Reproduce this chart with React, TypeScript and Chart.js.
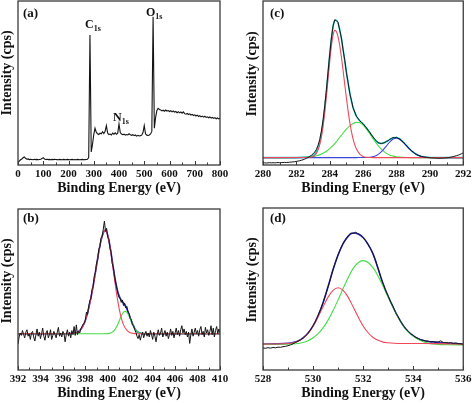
import React, { useEffect, useRef } from "react";
import { Chart, registerables } from "chart.js";

Chart.register(...registerables);

const SERIF = '"Liberation Serif", "Times New Roman", serif';
const INK = "#111111";

// ---------- (a) survey scan: counts every 5 eV from 0 eV ----------
const surveyStartEV = 0;
const surveyStepEV = 5;
const surveyCounts = [
  1.2, 2.4, 3.2, 3.6, 4.4, 4.9, 4.1, 3.5, 3.7, 3.3, // 0-45
  3.5, 3.4, 3.2, 3.5, 3.3, 3.4, 3.2, 3.4, 3.5, 3.9, // 50-95
  4.5, 3.7, 3.4, 3.5, 3.3, 3.4, 3.2, 3.4, 3.3, 3.5, // 100-145
  3.4, 3.3, 3.2, 3.4, 3.3, 3.2, 3.4, 3.3, 3.2, 3.4, // 150-195
  3.3, 3.2, 3.3, 3.4, 3.2, 3.3, 3.2, 3.4, 3.3, 3.2, // 200-245
  3.3, 3.4, 3.2, 3.3, 3.4, 3.5, 4.5, 79.3, 8.0, 12.5, // 250-295
  18.5, 22.4, 20.0, 19.0, 18.6, 19.4, 19.0, 20.3, 19.2, 20.5, // 300-345
  24.0, 19.5, 18.6, 18.9, 18.3, 19.5, 18.8, 19.6, 18.7, 19.4, // 350-395
  25.0, 19.8, 18.9, 18.5, 18.8, 18.2, 18.6, 18.3, 19.0, 18.4, // 400-445
  18.1, 18.5, 17.9, 18.3, 17.6, 18.1, 17.7, 17.9, 18.2, 19.8, // 450-495
  24.0, 19.0, 18.2, 18.0, 18.3, 18.9, 20.5, 90.4, 22.4, 29.0, // 500-545
  33.2, 34.6, 33.9, 33.6, 33.0, 33.4, 32.8, 33.5, 32.9, 33.2, // 550-595
  32.6, 33.1, 32.4, 32.9, 32.2, 32.6, 31.9, 32.5, 31.8, 32.3, // 600-645
  31.6, 32.4, 31.3, 31.0, 31.4, 30.8, 31.2, 30.5, 30.9, 30.2, // 650-695
  30.6, 29.9, 30.4, 29.6, 30.1, 29.4, 29.8, 29.2, 29.7, 29.0, // 700-745
  29.4, 28.8, 29.3, 28.6, 29.0, 28.4, 28.9, 28.2, 28.7, 28.1, // 750-795
  28.5, // 800
];

// ---------- (b) N 1s: raw counts every 0.1 eV from 392 eV ----------
const n1sStartEV = 392;
const n1sStepEV = 0.1;
const n1sCounts = [
  16.0, 20.5, 23.0, 21.5, 24.5, 22.0, 20.0, 23.5, 25.0, 21.0, // 392
  22.5, 19.0, 23.0, 24.0, 20.5, 18.0, 22.0, 25.5, 21.0, 23.5, // 393
  19.5, 22.5, 26.0, 21.0, 18.5, 23.0, 24.5, 20.0, 22.0, 25.0, // 394
  19.0, 21.5, 24.0, 22.0, 20.0, 23.5, 26.5, 21.0, 23.0, 20.5, // 395
  24.0, 22.5, 17.5, 22.0, 25.0, 21.0, 23.5, 20.0, 24.5, 22.0, // 396
  27.0, 21.5, 28.0, 22.0, 24.0, 23.0, 25.5, 27.0, 28.5, 29.0, // 397
  31.0, 36.0, 34.5, 39.5, 43.0, 44.5, 50.0, 52.0, 58.5, 60.5, // 398
  66.5, 68.5, 75.0, 76.5, 82.0, 83.0, 87.5, 92.5, 86.0, 88.0, // 399
  82.5, 81.0, 75.5, 73.0, 66.0, 63.5, 58.0, 54.0, 51.0, 47.5, // 400
  45.0, 44.5, 42.0, 43.5, 40.0, 41.5, 38.5, 39.5, 36.0, 35.0, // 401
  32.0, 31.0, 28.0, 27.5, 25.0, 23.5, 21.0, 19.5, 22.0, 18.5, // 402
  21.5, 23.5, 20.0, 22.5, 24.0, 21.0, 23.0, 20.5, 24.5, 22.0, // 403
  19.0, 23.5, 21.0, 17.5, 22.0, 25.0, 21.5, 23.0, 26.0, 20.5, // 404
  22.5, 24.5, 21.0, 23.5, 19.5, 22.0, 25.5, 21.5, 24.0, 20.0, // 405
  23.0, 26.0, 22.0, 24.5, 21.0, 25.0, 27.5, 23.0, 25.5, 22.0, // 406
  24.0, 20.5, 23.5, 16.5, 22.0, 25.5, 21.0, 23.5, 26.0, 22.5, // 407
  24.5, 21.0, 25.0, 27.0, 22.0, 24.0, 20.5, 26.5, 23.0, 25.0, // 408
  21.5, 24.0, 27.5, 22.0, 26.0, 20.5, 24.5, 27.0, 22.5, 25.5, // 409
  23.0, // 410
];
// fitted components [eV, counts]
const n1sPyridinic: [number, number][] = [
  [392, 22.5], [396, 22.5], [397.0, 22.8], [397.2, 23.2], [397.4, 24.0], [397.6, 25.3],
  [397.8, 27.5], [398.0, 30.8], [398.2, 35.5], [398.4, 41.5], [398.6, 48.5], [398.8, 56.5],
  [399.0, 65.0], [399.2, 73.5], [399.4, 80.5], [399.6, 85.2], [399.8, 87.0], [400.0, 83.5],
  [400.2, 76.4], [400.4, 66.8], [400.6, 56.4], [400.8, 46.7], [401.0, 38.6], [401.2, 32.4],
  [401.4, 28.2], [401.6, 25.6], [401.8, 24.0], [402.0, 23.2], [402.2, 22.8], [402.4, 22.6],
  [402.6, 22.5], [404, 22.5], [410, 22.5],
];
const n1sGraphitic: [number, number][] = [
  [392, 22.5], [399.8, 22.5], [400.0, 22.6], [400.2, 22.9], [400.4, 23.5], [400.6, 24.8],
  [400.8, 27.0], [401.0, 30.1], [401.2, 33.5], [401.4, 35.9], [401.6, 36.4], [401.8, 34.8],
  [402.0, 31.8], [402.2, 28.5], [402.4, 25.8], [402.6, 24.0], [402.8, 23.1], [403.0, 22.7],
  [403.2, 22.6], [403.4, 22.5], [410, 22.5],
];
const n1sEnvelope: [number, number][] = [
  [392, 22.5], [396, 22.5], [397.0, 22.8], [397.2, 23.2], [397.4, 24.0], [397.6, 25.3],
  [397.8, 27.5], [398.0, 30.8], [398.2, 35.5], [398.4, 41.5], [398.6, 48.5], [398.8, 56.5],
  [399.0, 65.0], [399.2, 73.5], [399.4, 80.5], [399.6, 85.2], [399.8, 87.0], [400.0, 83.6],
  [400.2, 76.8], [400.4, 67.8], [400.6, 58.7], [400.8, 51.2], [401.0, 46.2], [401.2, 43.4],
  [401.4, 41.6], [401.6, 39.5], [401.8, 36.3], [402.0, 32.5], [402.2, 28.8], [402.4, 25.9],
  [402.6, 24.0], [402.8, 23.1], [403.0, 22.7], [403.2, 22.6], [403.4, 22.5], [410, 22.5],
];

// ---------- (c) C 1s: raw counts every 0.1 eV from 280 eV ----------
const c1sStartEV = 280;
const c1sStepEV = 0.1;
const c1sCounts = [
  1.2, 1.3, 1.2, 1.3, 1.4, 1.3, 1.4, 1.3, 1.4, 1.5, // 280
  1.4, 1.5, 1.5, 1.6, 1.5, 1.6, 1.7, 1.8, 1.9, 2.0, // 281
  2.2, 2.4, 2.6, 2.9, 3.2, 3.6, 4.1, 4.6, 5.2, 5.9, // 282
  6.8, 7.9, 9.5, 12.0, 15.6, 20.8, 27.5, 36.2, 46.0, 57.0, // 283
  67.8, 77.5, 84.8, 88.6, 88.0, 86.9, 82.0, 77.4, 70.2, 63.8, // 284
  56.2, 50.3, 43.8, 39.4, 34.7, 32.3, 29.6, 28.4, 27.0, 26.0, // 285
  25.2, 23.8, 22.6, 21.2, 19.9, 18.3, 17.0, 15.6, 14.6, 13.7, // 286
  13.3, 13.1, 13.4, 13.8, 14.4, 14.8, 15.7, 16.1, 16.8, 16.6, // 287
  16.9, 16.2, 15.9, 14.8, 14.1, 12.8, 11.9, 10.6, 9.7, 8.7, // 288
  7.9, 7.0, 6.5, 5.9, 5.6, 5.2, 5.0, 4.8, 4.6, 4.5, // 289
  4.4, 4.3, 4.3, 4.2, 4.2, 4.1, 4.1, 4.2, 4.2, 4.3, // 290
  4.4, 4.5, 4.7, 4.9, 5.1, 5.4, 5.7, 6.0, 6.4, 6.9, // 291
  7.4, // 292
];
const c1sCC: [number, number][] = [
  [280, 4.5], [282.6, 4.6], [282.8, 4.7], [283.0, 5.2], [283.1, 5.9], [283.2, 7.1],
  [283.3, 9.2], [283.4, 12.4], [283.5, 17.1], [283.6, 23.6], [283.7, 32.0], [283.8, 41.9],
  [283.9, 52.7], [284.0, 63.4], [284.1, 72.6], [284.2, 79.3], [284.3, 82.1], [284.4, 81.3],
  [284.5, 78.2], [284.6, 72.7], [284.7, 65.7], [284.8, 57.6], [284.9, 49.0], [285.0, 40.7],
  [285.1, 33.0], [285.2, 26.1], [285.3, 20.4], [285.4, 15.8], [285.5, 12.3], [285.6, 9.7],
  [285.8, 6.6], [286.0, 5.2], [286.2, 4.7], [286.4, 4.6], [286.6, 4.5], [292, 4.5],
];
const c1sCO: [number, number][] = [
  [280, 4.5], [282.0, 4.5], [282.6, 4.7], [282.8, 4.9], [283.0, 5.1], [283.2, 5.6],
  [283.4, 6.2], [283.6, 7.1], [283.8, 8.4], [284.0, 10.0], [284.2, 12.0], [284.4, 14.3],
  [284.6, 16.9], [284.8, 19.5], [285.0, 21.9], [285.2, 23.9], [285.4, 25.3], [285.6, 26.0],
  [285.8, 25.7], [286.0, 24.3], [286.2, 21.9], [286.4, 19.1], [286.6, 16.0], [286.8, 13.1],
  [287.0, 10.6], [287.2, 8.6], [287.4, 7.1], [287.6, 6.0], [287.8, 5.4], [288.0, 5.0],
  [288.2, 4.8], [288.4, 4.65], [288.6, 4.55], [288.8, 4.5], [292, 4.5],
];
const c1sOCO: [number, number][] = [
  [280, 4.5], [285.6, 4.5], [285.8, 4.55], [286.0, 4.6], [286.2, 4.6], [286.4, 4.7],
  [286.6, 5.1], [286.8, 5.8], [287.0, 7.2], [287.2, 9.2], [287.4, 11.7], [287.6, 14.1],
  [287.8, 15.9], [288.0, 16.3], [288.2, 15.5], [288.4, 13.8], [288.6, 11.7], [288.8, 9.5],
  [289.0, 7.7], [289.2, 6.4], [289.4, 5.5], [289.6, 5.0], [289.8, 4.7], [290.0, 4.6], [292, 4.5],
];
const c1sEnvelope: [number, number][] = [
  [280, 4.5], [282.0, 4.5], [282.6, 4.8], [282.8, 5.1], [283.0, 5.8], [283.1, 6.7],
  [283.2, 8.2], [283.3, 10.6], [283.4, 14.0], [283.5, 19.0], [283.6, 25.8], [283.7, 34.5],
  [283.8, 44.8], [283.9, 56.0], [284.0, 67.5], [284.1, 77.0], [284.2, 84.5], [284.3, 88.0],
  [284.4, 88.3], [284.5, 86.5], [284.6, 82.5], [284.7, 77.0], [284.8, 70.5], [284.9, 63.5],
  [285.0, 56.5], [285.1, 50.0], [285.2, 44.0], [285.3, 39.0], [285.4, 35.0], [285.5, 32.0],
  [285.6, 29.8], [285.8, 26.8], [286.0, 25.0], [286.2, 22.5], [286.4, 19.8], [286.6, 16.9],
  [286.8, 14.4], [287.0, 13.2], [287.2, 13.3], [287.4, 14.3], [287.6, 15.6], [287.8, 16.6],
  [288.0, 16.8], [288.2, 15.9], [288.4, 14.0], [288.6, 11.8], [288.8, 9.6], [289.0, 7.8],
  [289.2, 6.4], [289.4, 5.5], [289.6, 5.0], [289.8, 4.7], [290.0, 4.6], [292, 4.5],
];

// ---------- (d) O 1s: raw counts every 0.1 eV from 528 eV ----------
const o1sStartEV = 528;
const o1sStepEV = 0.1;
const o1sCounts = [
  13.6, 13.4, 13.8, 13.5, 13.9, 13.7, 14.1, 14.0, 14.4, 14.6, // 528
  15.0, 15.5, 16.2, 17.0, 17.8, 18.6, 19.7, 21.0, 22.7, 24.8, // 529
  27.3, 30.2, 33.6, 37.4, 41.6, 46.4, 51.3, 56.7, 62.1, 66.8, // 530
  71.2, 74.9, 78.2, 80.6, 82.8, 84.5, 84.3, 85.0, 84.1, 83.4, // 531
  81.6, 79.8, 77.3, 74.8, 71.4, 67.3, 62.6, 57.5, 53.2, 48.9, // 532
  45.6, 41.9, 38.9, 35.4, 32.8, 29.9, 27.6, 25.4, 23.9, 22.3, // 533
  21.3, 20.1, 19.5, 18.7, 18.4, 17.9, 17.8, 17.4, 17.6, 17.2, // 534
  17.3, 18.0, 17.0, 16.9, 16.7, 16.9, 16.4, 16.7, 16.3, 16.2, // 535
  15.9, // 536
];
const o1sLattice: [number, number][] = [
  [528, 16.0], [529.0, 16.35], [529.2, 16.85], [529.4, 17.8], [529.6, 19.7], [529.8, 22.7],
  [530.0, 27.0], [530.2, 32.7], [530.4, 39.0], [530.6, 45.0], [530.8, 49.2], [531.0, 50.8],
  [531.2, 49.2], [531.4, 45.0], [531.6, 39.0], [531.8, 32.8], [532.0, 27.2], [532.2, 23.0],
  [532.4, 20.1], [532.6, 18.3], [532.8, 17.2], [533.0, 16.8], [533.4, 16.4], [535, 16.3], [536, 15.9],
];
const o1sHydroxyl: [number, number][] = [
  [528, 15.9], [528.6, 15.9], [529.0, 16.0], [529.2, 16.1], [529.4, 16.4], [529.6, 17.0],
  [529.8, 18.1], [530.0, 19.9], [530.2, 22.4], [530.4, 26.0], [530.6, 30.8], [530.8, 36.7],
  [531.0, 43.3], [531.2, 50.3], [531.4, 57.0], [531.6, 62.6], [531.8, 66.2], [532.0, 67.5],
  [532.2, 66.4], [532.4, 63.0], [532.6, 57.9], [532.8, 51.7], [533.0, 45.0], [533.2, 38.5],
  [533.4, 32.5], [533.6, 27.4], [533.8, 23.6], [534.0, 20.9], [534.2, 18.9], [534.4, 17.5],
  [534.6, 16.6], [534.8, 16.1], [535.0, 15.8], [535.4, 15.6], [536, 15.5],
];
const o1sEnvelope: [number, number][] = [
  [528, 16.0], [528.5, 16.1], [529.0, 16.5], [529.2, 17.0], [529.4, 17.9], [529.6, 19.8],
  [529.8, 22.9], [530.0, 27.2], [530.2, 33.5], [530.4, 41.5], [530.6, 51.5], [530.8, 62.0],
  [531.0, 71.0], [531.2, 78.0], [531.4, 82.5], [531.6, 84.6], [531.8, 84.0], [532.0, 81.8],
  [532.2, 77.5], [532.4, 71.5], [532.6, 62.5], [532.8, 53.0], [533.0, 45.5], [533.2, 38.8],
  [533.4, 32.6], [533.6, 27.5], [533.8, 23.8], [534.0, 21.2], [534.2, 19.3], [534.4, 18.2],
  [534.6, 17.6], [534.8, 17.3], [535.0, 17.0], [535.5, 16.5], [536, 15.9],
];

// ---------- helpers ----------
type Pt = { x: number; y: number };
const gridPoints = (start: number, step: number, ys: number[]): Pt[] =>
  ys.map((y, i) => ({ x: +(start + i * step).toFixed(3), y }));
const pairPoints = (pairs: [number, number][]): Pt[] => pairs.map(([x, y]) => ({ x, y }));

const RAW = "#141414";
const RED = "#f0485a";
const GREEN = "#44dd44";
const NAVY = "#2b2bd0";
const BLUE = "#3a46dc";
const CYAN = "#18d2cc";

type Curve = { data: Pt[]; color: string; width: number; smooth: boolean };
type PanelSpec = {
  key: string;
  left: number;
  top: number;
  w: number;
  h: number;
  area: { left: number; right: number; top: number; bottom: number };
  xMin: number;
  xMax: number;
  minorStep: number;
  majorStep: number;
  titlePad: number;
  curves: Curve[];
};

const raw = (data: Pt[]): Curve => ({ data, color: RAW, width: 1.0, smooth: false });
const fit = (pairs: [number, number][], color: string, width = 1.1): Curve => ({
  data: pairPoints(pairs),
  color,
  width,
  smooth: true,
});

const panels: PanelSpec[] = [
  {
    key: "a", left: 0, top: 0, w: 237, h: 200,
    area: { left: 18, right: 220, top: 1, bottom: 165 },
    xMin: 0, xMax: 800, minorStep: 50, majorStep: 100, titlePad: 3.6,
    curves: [{ data: gridPoints(surveyStartEV, surveyStepEV, surveyCounts), color: RAW, width: 1.1, smooth: false }],
  },
  {
    key: "c", left: 237, top: 0, w: 237, h: 200,
    area: { left: 26, right: 228, top: 1, bottom: 165 },
    xMin: 280, xMax: 292, minorStep: 1, majorStep: 2, titlePad: 3.6,
    curves: [
      raw(gridPoints(c1sStartEV, c1sStepEV, c1sCounts)),
      fit(c1sCC, RED),
      fit(c1sOCO, BLUE),
      fit(c1sCO, GREEN),
      fit(c1sEnvelope, CYAN, 1.6),
    ],
  },
  {
    key: "b", left: 0, top: 200, w: 237, h: 203,
    area: { left: 18, right: 220, top: 9, bottom: 170 },
    xMin: 392, xMax: 410, minorStep: 1, majorStep: 2, titlePad: 1.1,
    curves: [
      raw(gridPoints(n1sStartEV, n1sStepEV, n1sCounts)),
      fit(n1sPyridinic, RED),
      fit(n1sGraphitic, GREEN),
      fit(n1sEnvelope, NAVY, 1.6),
    ],
  },
  {
    key: "d", left: 237, top: 200, w: 237, h: 203,
    area: { left: 26, right: 228, top: 8, bottom: 170 },
    xMin: 528, xMax: 536, minorStep: 1, majorStep: 2, titlePad: 1.1,
    curves: [
      raw(gridPoints(o1sStartEV, o1sStepEV, o1sCounts)),
      fit(o1sLattice, RED),
      fit(o1sHydroxyl, GREEN),
      fit(o1sEnvelope, NAVY, 1.6),
    ],
  },
];

// frame around the plot area plus inward tick marks on the energy axis
const framePlugin = {
  id: "frameAndTicks",
  afterDatasetsDraw(chart: any) {
    const { ctx, chartArea: a, scales } = chart;
    ctx.save();
    ctx.strokeStyle = "#3a3a3a";
    ctx.lineWidth = 1.3;
    ctx.strokeRect(a.left, a.top, a.right - a.left, a.bottom - a.top);
    const xs = scales.x;
    ctx.lineWidth = 1;
    for (const t of xs.ticks) {
      const px = Math.round(xs.getPixelForValue(t.value)) + 0.5;
      const len = t.label ? 4 : 2.5;
      ctx.beginPath();
      ctx.moveTo(px, a.bottom);
      ctx.lineTo(px, a.bottom - len);
      ctx.stroke();
    }
    ctx.restore();
  },
};

function Panel({ spec }: { spec: PanelSpec }) {
  const ref = useRef<HTMLCanvasElement>(null);
  useEffect(() => {
    if (!ref.current) return;
    const isMajor = (v: number) => Math.abs(v / spec.majorStep - Math.round(v / spec.majorStep)) < 1e-6;
    const chart = new Chart(ref.current, {
      type: "line",
      data: {
        datasets: spec.curves.map((c) => ({
          data: c.data,
          borderColor: c.color,
          borderWidth: c.width,
          pointRadius: 0,
          fill: false,
          tension: c.smooth ? 0.4 : 0,
          cubicInterpolationMode: c.smooth ? "monotone" : "default",
        })),
      },
      options: {
        animation: false,
        responsive: false,
        events: [],
        layout: {
          padding: { left: spec.area.left, right: spec.w - spec.area.right, top: spec.area.top, bottom: 0 },
        },
        plugins: { legend: { display: false }, tooltip: { enabled: false } },
        scales: {
          x: {
            type: "linear",
            min: spec.xMin,
            max: spec.xMax,
            border: { display: false },
            grid: { display: false, drawTicks: false },
            ticks: {
              stepSize: spec.minorStep,
              autoSkip: false,
              maxRotation: 0,
              padding: 2.5,
              color: INK,
              font: { family: SERIF, size: 11, weight: "bold" },
              callback: (v: any) => (isMajor(Number(v)) ? String(Math.round(Number(v))) : ""),
            },
            title: {
              display: true,
              text: "Binding Energy (eV)",
              color: INK,
              font: { family: SERIF, size: 14, weight: "bold" },
              padding: { top: 0, bottom: spec.titlePad },
            },
            afterFit: (s: any) => {
              s.height = spec.h - spec.area.bottom;
            },
          },
          y: { display: false, min: 0, max: 100 },
        },
      } as any,
      plugins: [framePlugin],
    });
    return () => chart.destroy();
  }, [spec]);
  return (
    <canvas
      ref={ref}
      width={spec.w}
      height={spec.h}
      style={{ position: "absolute", left: spec.left, top: spec.top, width: spec.w, height: spec.h }}
    />
  );
}

const textBase: React.CSSProperties = {
  position: "absolute",
  fontFamily: SERIF,
  fontWeight: "bold",
  color: INK,
  lineHeight: 1,
  whiteSpace: "nowrap",
};

function YTitle({ cx, cy }: { cx: number; cy: number }) {
  return (
    <div
      style={{
        ...textBase,
        left: cx - 70,
        top: cy - 8,
        width: 140,
        height: 16,
        lineHeight: "16px",
        fontSize: 14,
        textAlign: "center",
        transform: "rotate(-90deg)",
        transformOrigin: "50% 50%",
      }}
    >
      Intensity (cps)
    </div>
  );
}

function PanelTag({ x, y, text }: { x: number; y: number; text: string }) {
  return <div style={{ ...textBase, left: x, top: y, fontSize: 13 }}>{text}</div>;
}

function PeakTag({ x, y, el }: { x: number; y: number; el: string }) {
  return (
    <div style={{ ...textBase, left: x, top: y, fontSize: 12 }}>
      {el}
      <span style={{ fontSize: 8, position: "relative", top: 3 }}>1s</span>
    </div>
  );
}

export default function App() {
  return (
    <div
      style={{
        position: "fixed",
        left: 0,
        top: 0,
        width: 474,
        height: 403,
        background: "#ffffff",
        overflow: "hidden",
      }}
    >
      {panels.map((p) => (
        <Panel key={p.key} spec={p} />
      ))}
      <YTitle cx={7} cy={73} />
      <YTitle cx={252} cy={74} />
      <YTitle cx={7} cy={281} />
      <YTitle cx={252} cy={280} />
      <PanelTag x={23} y={6} text="(a)" />
      <PanelTag x={270} y={6} text="(c)" />
      <PanelTag x={23} y={211} text="(b)" />
      <PanelTag x={270} y={211} text="(d)" />
      <PeakTag x={85} y={18} el="C" />
      <PeakTag x={146} y={6} el="O" />
      <PeakTag x={113} y={111} el="N" />
    </div>
  );
}
